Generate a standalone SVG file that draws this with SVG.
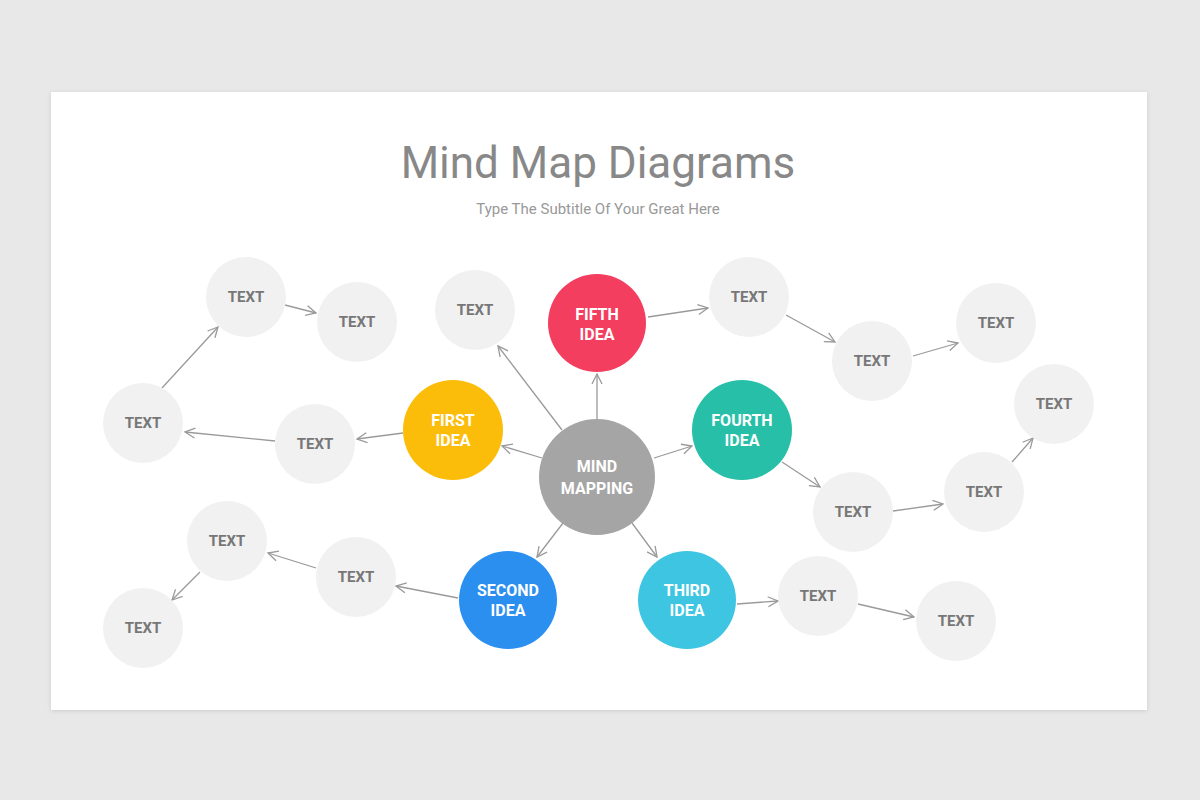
<svg xmlns="http://www.w3.org/2000/svg" width="1200" height="800" viewBox="0 0 1200 800">
<defs>
<marker id="ah" viewBox="0 0 12 12" refX="11" refY="6" markerWidth="12" markerHeight="12" markerUnits="userSpaceOnUse" orient="auto"><polyline points="1,1 11,6 1,11" fill="none" stroke="#9a9a9a" stroke-width="1.3"/></marker>
<filter id="sh" x="-5%" y="-5%" width="110%" height="110%"><feDropShadow dx="0" dy="1" stdDeviation="2" flood-color="#000" flood-opacity="0.12"/></filter>
</defs>
<style>
.t{fill:#f1f1f1}
.tl{font-family:Roboto,"Liberation Sans",sans-serif;font-weight:bold;font-size:15px;fill:#777;text-anchor:middle}
.il{font-family:Roboto,"Liberation Sans",sans-serif;font-weight:bold;font-size:16px;fill:#fff;text-anchor:middle}
#connectors line{stroke:#9a9a9a;stroke-width:1.3;marker-end:url(#ah)}
</style>
<rect width="1200" height="800" fill="#e9e8e9"/>
<rect x="51" y="92" width="1096" height="618" fill="#fff" filter="url(#sh)"/>
<text x="598" y="178" font-family="Roboto,'Liberation Sans',sans-serif" font-size="44" fill="#888" text-anchor="middle">Mind Map Diagrams</text>
<text x="598" y="214" font-family="Roboto,'Liberation Sans',sans-serif" font-size="15" fill="#999" text-anchor="middle">Type The Subtitle Of Your Great Here</text>
<g id="connectors">
<line x1="597" y1="419" x2="597" y2="374"/>
<line x1="562" y1="430" x2="498" y2="346"/>
<line x1="542" y1="458" x2="502" y2="446"/>
<line x1="654" y1="458" x2="692" y2="446"/>
<line x1="563" y1="523" x2="537" y2="557"/>
<line x1="632" y1="523" x2="657" y2="557"/>
<line x1="403" y1="433" x2="357" y2="439"/>
<line x1="275" y1="441" x2="185" y2="432"/>
<line x1="162" y1="388" x2="218" y2="327"/>
<line x1="285" y1="305" x2="316" y2="313"/>
<line x1="648" y1="317" x2="708" y2="308"/>
<line x1="786" y1="315" x2="835" y2="342"/>
<line x1="913" y1="356" x2="958" y2="343"/>
<line x1="782" y1="462" x2="820" y2="487"/>
<line x1="893" y1="511" x2="943" y2="504"/>
<line x1="1012" y1="462" x2="1033" y2="438"/>
<line x1="458" y1="598" x2="396" y2="586"/>
<line x1="316" y1="568" x2="268" y2="553"/>
<line x1="200" y1="572" x2="172" y2="600"/>
<line x1="737" y1="604" x2="778" y2="601"/>
<line x1="858" y1="604" x2="914" y2="617"/>
</g>
<g id="center"><circle cx="597" cy="477" r="58" fill="#a5a5a5"/><text class="il" x="597" y="472">MIND</text><text class="il" x="597" y="494">MAPPING</text></g>
<g id="fifth"><circle cx="597" cy="323" r="49" fill="#f33e5f"/><text class="il" x="597" y="320">FIFTH</text><text class="il" x="597" y="340">IDEA</text></g>
<g id="first"><circle cx="453" cy="430" r="50" fill="#fcbd0a"/><text class="il" x="453" y="426">FIRST</text><text class="il" x="453" y="446">IDEA</text></g>
<g id="fourth"><circle cx="742" cy="430" r="50" fill="#27bfa8"/><text class="il" x="742" y="426">FOURTH</text><text class="il" x="742" y="446">IDEA</text></g>
<g id="second"><circle cx="508" cy="600" r="49" fill="#2b8ff0"/><text class="il" x="508" y="596">SECOND</text><text class="il" x="508" y="616">IDEA</text></g>
<g id="third"><circle cx="687" cy="600" r="49" fill="#3ec5e1"/><text class="il" x="687" y="596">THIRD</text><text class="il" x="687" y="616">IDEA</text></g>
<g id="t1"><circle class="t" cx="246" cy="297" r="40"/><text class="tl" x="246" y="302">TEXT</text></g>
<g id="t2"><circle class="t" cx="357" cy="322" r="40"/><text class="tl" x="357" y="327">TEXT</text></g>
<g id="t3"><circle class="t" cx="143" cy="423" r="40"/><text class="tl" x="143" y="428">TEXT</text></g>
<g id="t4"><circle class="t" cx="315" cy="444" r="40"/><text class="tl" x="315" y="449">TEXT</text></g>
<g id="t5"><circle class="t" cx="475" cy="310" r="40"/><text class="tl" x="475" y="315">TEXT</text></g>
<g id="t6"><circle class="t" cx="749" cy="297" r="40"/><text class="tl" x="749" y="302">TEXT</text></g>
<g id="t7"><circle class="t" cx="872" cy="361" r="40"/><text class="tl" x="872" y="366">TEXT</text></g>
<g id="t8"><circle class="t" cx="996" cy="323" r="40"/><text class="tl" x="996" y="328">TEXT</text></g>
<g id="t9"><circle class="t" cx="1054" cy="404" r="40"/><text class="tl" x="1054" y="409">TEXT</text></g>
<g id="t10"><circle class="t" cx="984" cy="492" r="40"/><text class="tl" x="984" y="497">TEXT</text></g>
<g id="t11"><circle class="t" cx="853" cy="512" r="40"/><text class="tl" x="853" y="517">TEXT</text></g>
<g id="t12"><circle class="t" cx="227" cy="541" r="40"/><text class="tl" x="227" y="546">TEXT</text></g>
<g id="t13"><circle class="t" cx="356" cy="577" r="40"/><text class="tl" x="356" y="582">TEXT</text></g>
<g id="t14"><circle class="t" cx="143" cy="628" r="40"/><text class="tl" x="143" y="633">TEXT</text></g>
<g id="t15"><circle class="t" cx="818" cy="596" r="40"/><text class="tl" x="818" y="601">TEXT</text></g>
<g id="t16"><circle class="t" cx="956" cy="621" r="40"/><text class="tl" x="956" y="626">TEXT</text></g>
</svg>
